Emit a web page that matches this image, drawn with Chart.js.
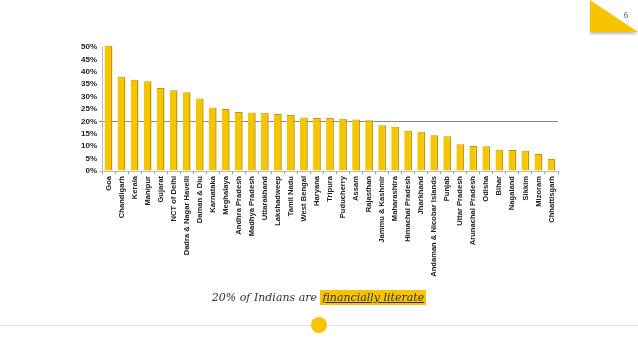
<!DOCTYPE html>
<html>
<head>
<meta charset="utf-8">
<script src="https://cdn.jsdelivr.net/npm/chart.js@4.4.1/dist/chart.umd.min.js"></script>
<style>
  html, body { margin: 0; padding: 0; background: #fff; }
  #wrap { position: relative; width: 638px; height: 359px; overflow: hidden; }
  #chart { position: absolute; left: 0; top: 0; }
  .corner { position: absolute; left: 590px; top: 0; width: 0; height: 0;
    border-left: 48px solid #F6C400; border-top: 32px solid transparent; filter: drop-shadow(0 2px 1px rgba(0,0,0,0.25)); }
  .pageno { position: absolute; left: 624px; top: 11px; font: 8px "Liberation Serif", serif; color: #333; }
  .caption { position: absolute; left: 0; width: 638px; top: 291px; text-align: center;
    font: italic 11px "DejaVu Serif", "Liberation Serif", serif; color: #333; }
  .caption span { background: #F6C400; text-decoration: underline; padding: 1px 2px; }
  .rule { position: absolute; left: 0; width: 638px; top: 325px; height: 1px; background: #e2e2e2; }
  .dot { position: absolute; left: 311px; top: 317px; width: 16px; height: 16px; border-radius: 50%; background: #F6C400; }
</style>
</head>
<body>
<div id="wrap">
  <canvas id="chart" width="638" height="359"></canvas>
  <div class="corner"></div>
  <div class="pageno">6</div>
  <div class="caption">20% of Indians are <span>financially literate</span></div>
  <div class="rule"></div>
  <div class="dot"></div>
</div>
<script>
var states = ['Goa', 'Chandigarh', 'Kerala', 'Manipur', 'Gujarat', 'NCT of Delhi', 'Dadra & Nagar Havelli',
  'Daman & Diu', 'Karnataka', 'Meghalaya', 'Andhra Pradesh', 'Madhya Pradesh', 'Uttarakhand', 'Lakshadweep',
  'Tamil Nadu', 'West Bengal', 'Haryana', 'Tripura', 'Puducherry', 'Assam', 'Rajasthan', 'Jammu & Kashmir',
  'Maharashtra', 'Himachal Pradesh', 'Jharkhand', 'Andaman & Nicobar Islands', 'Punjab', 'Uttar Pradesh',
  'Arunachal Pradesh', 'Odisha', 'Bihar', 'Nagaland', 'Sikkim', 'Mizoram', 'Chhattisgarh'];
var literacy = [50.5, 38, 36.8, 36.2, 33.5, 32.6, 31.8, 29.2, 25.6, 25, 23.8, 23.6, 23.5, 23,
  22.6, 21.6, 21.4, 21.4, 21.1, 20.8, 20.5, 18.4, 17.8, 16.2, 15.8, 14.4, 14, 10.8,
  10.1, 10, 8.6, 8.5, 8.2, 6.9, 4.8];
var yTicks = [0, 5, 10, 15, 20, 25, 30, 35, 40, 45, 50];
var literacyLine = 20;

var ctx = document.getElementById('chart').getContext('2d');
var chart = new Chart(ctx, {
  type: 'bar',
  data: {
    labels: states,
    datasets: [{
      data: literacy,
      backgroundColor: '#F5C500',
      borderColor: '#C29A00',
      borderWidth: { right: 1.5, top: 1, left: 0, bottom: 0 },
      barPercentage: 0.6,
      categoryPercentage: 1,
      clip: false
    }]
  },
  options: {
    responsive: false,
    animation: false,
    layout: { padding: { left: 71, top: 47, right: 80, bottom: 77 } },
    plugins: { legend: { display: false }, tooltip: { enabled: false } },
    scales: {
      x: {
        offset: true,
        afterFit: function(s) { s.height = 111; },
        border: { color: '#bbb' },
        grid: { drawOnChartArea: false, offset: true, tickLength: 3, color: '#999' },
        ticks: {
          autoSkip: false, minRotation: 90, maxRotation: 90, padding: 2,
          color: '#222', font: { family: 'Liberation Sans', size: 7.6, weight: 'bold' }
        }
      },
      y: {
        min: 0, max: 50,
        afterFit: function(s) { s.width = 31; },
        afterBuildTicks: function(s) { s.ticks = yTicks.map(function(v) { return { value: v }; }); },
        border: { color: '#bbb' },
        grid: {
          tickLength: 3,
          color: function(c) {
            if (c.tick && c.tick.value === literacyLine) return '#8a8a8a';
            if (c.tick && c.tick.value === 0) return '#bbb';
            return 'rgba(0,0,0,0)';
          }
        },
        ticks: {
          autoSkip: false, padding: 2, color: '#222',
          font: { family: 'Liberation Sans', size: 8, weight: 'bold' },
          callback: function(v) { return v + '%'; }
        }
      }
    }
  }
});
</script>
</body>
</html>
